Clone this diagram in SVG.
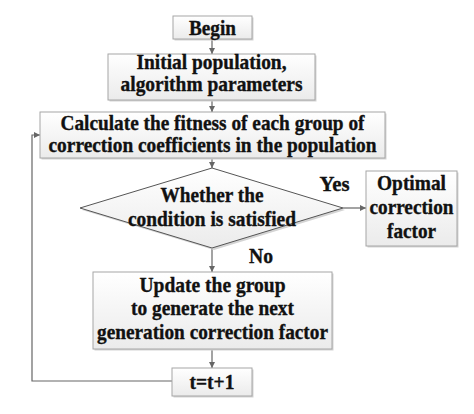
<svg xmlns="http://www.w3.org/2000/svg" width="474" height="414" viewBox="0 0 474 414">
<defs>
<linearGradient id="g" x1="0" y1="0" x2="0" y2="1">
<stop offset="0" stop-color="#ffffff"/>
<stop offset="1" stop-color="#ebebeb"/>
</linearGradient>
<marker id="ah" viewBox="0 0 8 8" refX="8" refY="4" markerWidth="6" markerHeight="6" orient="auto" markerUnits="userSpaceOnUse">
<path d="M0,0 L8,4 L0,8 Z" fill="#666"/>
</marker>
</defs>
<style>
.box{fill:url(#g);stroke:#a6a6a6;stroke-width:1}
.sh{fill:#d4d4d4;stroke:none}
.t{font-family:"Liberation Serif","Times New Roman",serif;font-weight:bold;font-size:21px;fill:#111;stroke:#111;stroke-width:0.35;text-anchor:middle}
.c{fill:none;stroke:#666;stroke-width:1.2}
</style>
<rect width="474" height="414" fill="#fff"/>
<g id="connectors">
<line class="c" x1="212" y1="39" x2="212" y2="54" marker-end="url(#ah)"/>
<line class="c" x1="212" y1="100" x2="212" y2="112" marker-end="url(#ah)"/>
<line class="c" x1="212" y1="158" x2="212" y2="168" marker-end="url(#ah)"/>
<line class="c" x1="343" y1="208" x2="366" y2="208" marker-end="url(#ah)"/>
<line class="c" x1="212" y1="248" x2="212" y2="272" marker-end="url(#ah)"/>
<line class="c" x1="212" y1="349" x2="212" y2="368" marker-end="url(#ah)"/>
<polyline class="c" points="172,381 32,381 32,135 40,135" marker-end="url(#ah)"/>
<text class="t" x="334.5" y="191" textLength="30" lengthAdjust="spacingAndGlyphs">Yes</text>
<text class="t" x="261" y="263" textLength="24" lengthAdjust="spacingAndGlyphs">No</text>
</g>
<g id="begin">
<rect class="sh" x="174.5" y="17.5" width="79" height="23"/>
<rect class="box" x="173" y="16" width="79" height="23"/>
<text class="t" x="212.5" y="35" textLength="47" lengthAdjust="spacingAndGlyphs">Begin</text>
</g>
<g id="init">
<rect class="sh" x="109.5" y="55.5" width="207" height="46"/>
<rect class="box" x="108" y="54" width="207" height="46"/>
<text class="t" x="211.5" y="69" textLength="150" lengthAdjust="spacingAndGlyphs">Initial population,</text>
<text class="t" x="211.5" y="91" textLength="182" lengthAdjust="spacingAndGlyphs">algorithm parameters</text>
</g>
<g id="fitness">
<rect class="sh" x="41.5" y="113.5" width="345" height="46"/>
<rect class="box" x="40" y="112" width="345" height="46"/>
<text class="t" x="212.5" y="130" textLength="304" lengthAdjust="spacingAndGlyphs">Calculate the fitness of each group of</text>
<text class="t" x="212.5" y="152" textLength="328" lengthAdjust="spacingAndGlyphs">correction coefficients in the population</text>
</g>
<g id="decision">
<polygon points="82,210 214,170 345,210 214,250" fill="#d4d4d4"/>
<polygon points="80,208 212,168 343,208 212,248" fill="url(#g)" stroke="#555" stroke-width="1"/>
<text class="t" x="212" y="202" textLength="103" lengthAdjust="spacingAndGlyphs">Whether the</text>
<text class="t" x="212" y="226" textLength="168" lengthAdjust="spacingAndGlyphs">condition is satisfied</text>
</g>
<g id="optimal">
<rect class="sh" x="367.5" y="172.5" width="91" height="75"/>
<rect class="box" x="366" y="171" width="91" height="75"/>
<text class="t" x="411.5" y="190" textLength="69" lengthAdjust="spacingAndGlyphs">Optimal</text>
<text class="t" x="411.5" y="214" textLength="84" lengthAdjust="spacingAndGlyphs">correction</text>
<text class="t" x="411.5" y="238" textLength="49" lengthAdjust="spacingAndGlyphs">factor</text>
</g>
<g id="update">
<rect class="sh" x="94.5" y="273.5" width="239" height="77"/>
<rect class="box" x="93" y="272" width="239" height="77"/>
<text class="t" x="212.5" y="292" textLength="146" lengthAdjust="spacingAndGlyphs">Update the group</text>
<text class="t" x="212.5" y="315" textLength="163" lengthAdjust="spacingAndGlyphs">to generate the next</text>
<text class="t" x="212.5" y="339" textLength="231" lengthAdjust="spacingAndGlyphs">generation correction factor</text>
</g>
<g id="incr">
<rect class="sh" x="173.5" y="369.5" width="80" height="28"/>
<rect class="box" x="172" y="368" width="80" height="28"/>
<text class="t" x="212" y="389" textLength="45" lengthAdjust="spacingAndGlyphs">t=t+1</text>
</g>
</svg>
